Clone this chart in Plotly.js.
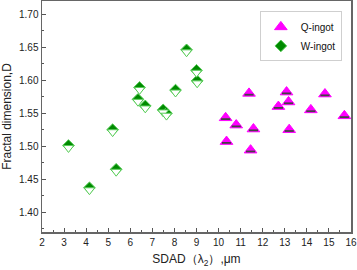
<!DOCTYPE html>
<html>
<head>
<meta charset="utf-8">
<script src="https://cdn.plot.ly/plotly-3.0.1.min.js"></script>
<style>html,body{margin:0;padding:0;background:#fff;}#chart{width:357px;height:270px;}</style>
</head>
<body>
<div id="chart"></div>
<script>
// Q-ingot (magenta triangles)
const qX = [10.32, 10.36, 10.8, 11.38, 11.45, 11.58, 12.71, 13.08, 13.17, 13.2, 14.18, 14.82, 15.7];
const qY = [1.543, 1.507, 1.532, 1.580, 1.494, 1.526, 1.560, 1.582, 1.567, 1.525, 1.555, 1.579, 1.546];
// W-ingot (green diamonds)
const wX = [3.2, 4.15, 5.2, 5.36, 6.35, 6.42, 6.68, 7.49, 7.64, 8.05, 8.55, 9.0, 9.03];
const wY = [1.501, 1.437, 1.525, 1.465, 1.571, 1.589, 1.561, 1.555, 1.550, 1.585, 1.646, 1.615, 1.599];
const seriesNames = ['Q-ingot', 'W-ingot'];

const MAG = '#ff00ff', DG = '#008a00', LG = '#55cc55';
const font = 'Liberation Sans, Arial, sans-serif';

const traces = [
  // Q base: filled triangle
  {x: qX, y: qY, type: 'scatter', mode: 'markers', name: seriesNames[0],
   marker: {symbol: 'triangle-up', size: 11, color: MAG, line: {color: MAG, width: 1}}},
  // Q white strip near base
  {x: qX, y: qY, type: 'scatter', mode: 'markers', showlegend: false, hoverinfo: 'skip',
   marker: {symbol: 'line-ew', size: 6.5, angle: 0, standoff: 1.3, color: '#ffffff', line: {width: 1.8}}},
  // W base: filled diamond
  {x: wX, y: wY, type: 'scatter', mode: 'markers', name: seriesNames[1],
   marker: {symbol: 'diamond', size: 9, color: DG, line: {color: LG, width: 1}}},
  // W lower half: white triangle pointing down
  {x: wX, y: wY, type: 'scatter', mode: 'markers', showlegend: false, hoverinfo: 'skip',
   marker: {symbol: 'triangle-down', size: 9.2, angle: 0, standoff: 2.3, color: '#ffffff', line: {color: LG, width: 1}}}
];

const layout = {
  width: 357, height: 270,
  margin: {l: 42, r: 6, t: 1, b: 38},
  paper_bgcolor: '#fff', plot_bgcolor: '#fff',
  font: {family: font, size: 10, color: '#222'},
  showlegend: true,
  legend: {x: 0.705, y: 0.955, xanchor: 'left', yanchor: 'top',
           font: {family: font, size: 10, color: '#111'},
           bgcolor: '#fff', bordercolor: '#cfcfcf', borderwidth: 1,
           tracegroupgap: 0},
  xaxis: {
    range: [2, 16], dtick: 1, tick0: 0,
    showgrid: false, zeroline: false,
    showline: true, linecolor: '#666', linewidth: 1.5, mirror: true,
    ticks: 'inside', ticklen: 4, tickwidth: 1, tickcolor: '#555',
    minor: {dtick: 0.5, ticks: 'inside', ticklen: 2, tickcolor: '#555', showgrid: false},
    tickfont: {family: font, size: 10, color: '#222'},
    title: {text: 'SDAD（λ<sub>2</sub>）,μm', font: {family: font, size: 12, color: '#222'}, standoff: 8}
  },
  yaxis: {
    range: [1.37, 1.72], dtick: 0.05, tick0: 1.4, tickformat: '.2f',
    showgrid: false, zeroline: false,
    showline: true, linecolor: '#666', linewidth: 1.5, mirror: true,
    ticks: 'inside', ticklen: 4, tickwidth: 1, tickcolor: '#555',
    minor: {dtick: 0.025, ticks: 'inside', ticklen: 2, tickcolor: '#555', showgrid: false},
    tickfont: {family: font, size: 10, color: '#222'},
    title: {text: 'Fractal dimension,D', font: {family: font, size: 12, color: '#222'}, standoff: 6}
  }
};

Plotly.newPlot('chart', traces, layout, {displayModeBar: false, staticPlot: true});
</script>
</body>
</html>
